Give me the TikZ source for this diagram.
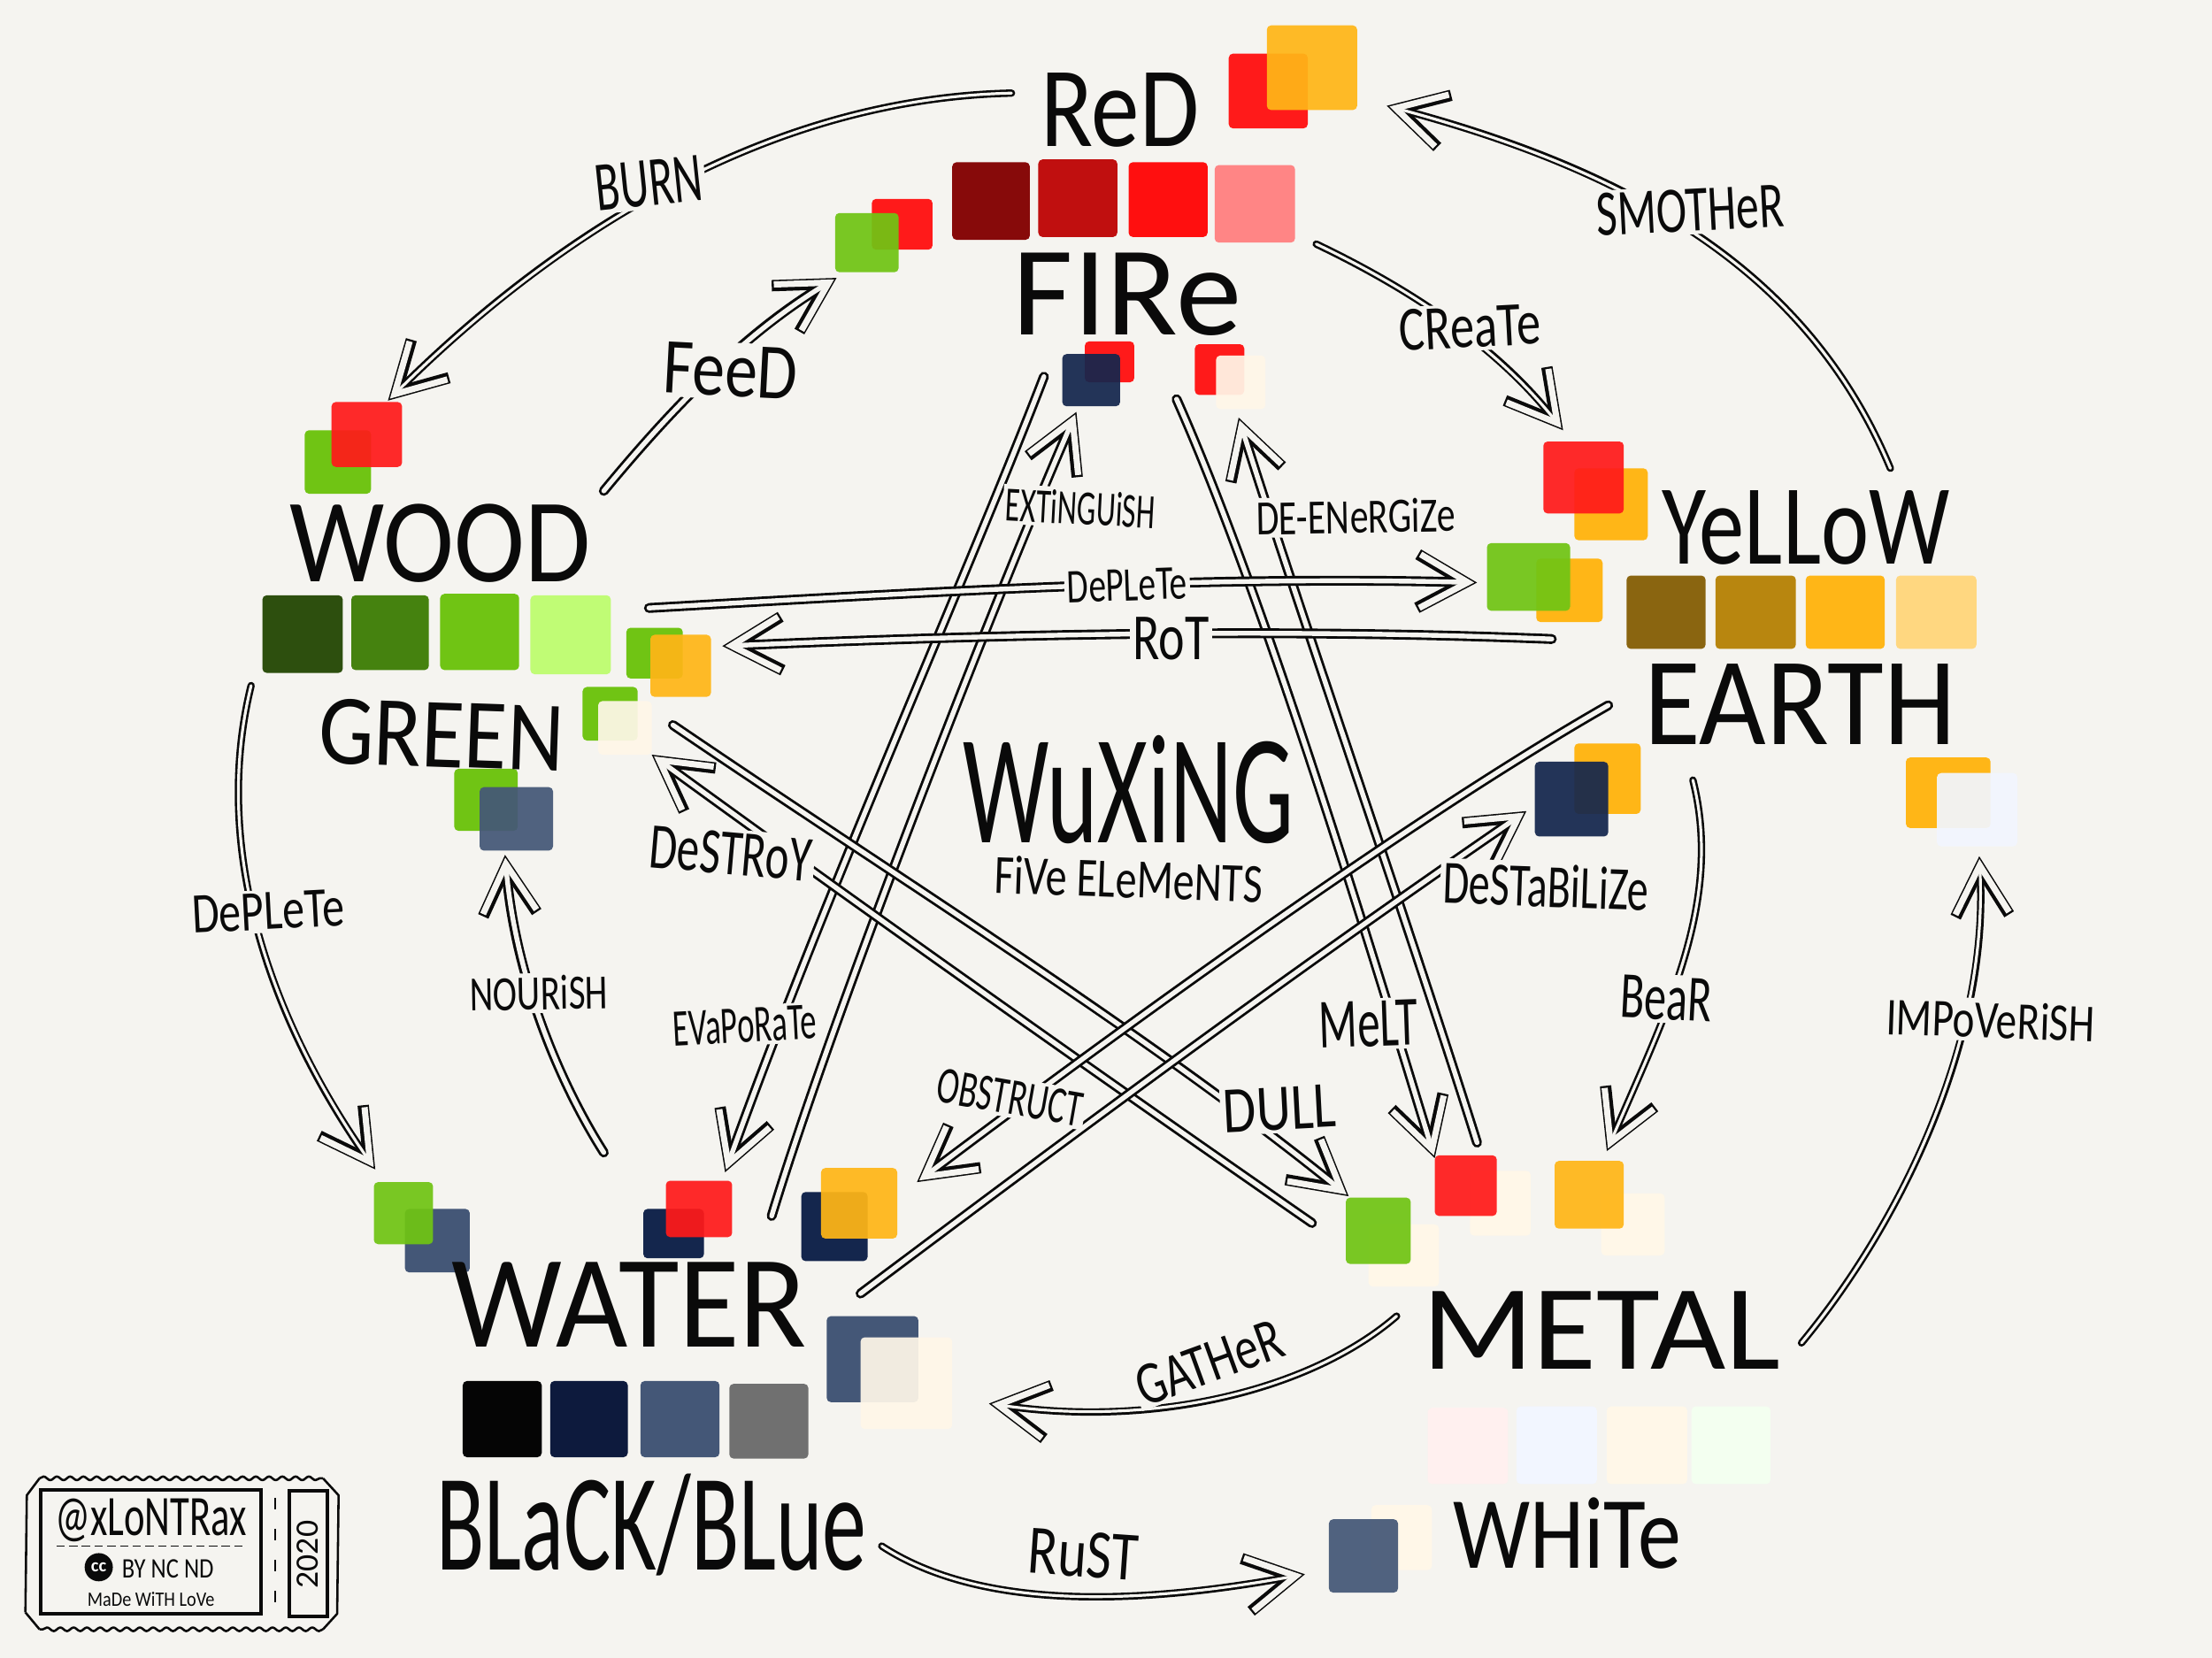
\documentclass[tikz,border=0pt]{standalone}
\usepackage{fontspec}
\usepackage{graphicx}
\setmainfont{Carlito}
\usetikzlibrary{arrows.meta,decorations.pathmorphing}
\definecolor{bg}{HTML}{F5F4F0}
\definecolor{ink}{HTML}{0A0A0A}
\definecolor{rd}{HTML}{FF1A1A}
\definecolor{og}{HTML}{FFB617}
\definecolor{gn}{HTML}{70C414}
\definecolor{nv}{HTML}{14264D}
\definecolor{bl}{HTML}{445777}
\definecolor{cr}{HTML}{FFF7E8}
\definecolor{ic}{HTML}{F2F6FF}
\definecolor{fa}{HTML}{870A0A}\definecolor{fb}{HTML}{C00F0F}\definecolor{fc}{HTML}{FF0F0F}\definecolor{fd}{HTML}{FF8585}
\definecolor{wa}{HTML}{2D4F0E}\definecolor{wb}{HTML}{45820F}\definecolor{wc}{HTML}{70C414}\definecolor{wd}{HTML}{C0FC75}
\definecolor{ea}{HTML}{8A6510}\definecolor{eb}{HTML}{B8860F}\definecolor{ec}{HTML}{FFB617}\definecolor{ed}{HTML}{FFD780}
\definecolor{aa}{HTML}{050505}\definecolor{ab}{HTML}{0D1A3D}\definecolor{ac}{HTML}{445777}\definecolor{ad}{HTML}{707070}
\definecolor{ma}{HTML}{FFF0EF}\definecolor{mb}{HTML}{F2F6FF}\definecolor{mc}{HTML}{FFF7E8}\definecolor{md}{HTML}{F3FFF0}
\tikzset{
  headout/.tip={Straight Barb[length=34pt,width=38pt,line width=8pt]},
  headin/.tip={Straight Barb[length=34pt,width=38pt,line width=4.4pt]},
  conn/.style={draw=bg,line width=3.4pt,line cap=round,-{headin},shorten >=2pt,
    preaction={draw=ink,line width=7pt,line cap=round,-{headout},shorten >=0pt}},
  connthin/.style={draw=bg,line width=2pt,line cap=round,-{headin},shorten >=2pt,
    preaction={draw=ink,line width=5.2pt,line cap=round,-{headout},shorten >=0pt}},
  swatch/.style={rounded corners=3pt,inner sep=0pt,outer sep=0pt,draw=none},
  word/.style={inner sep=0pt,outer sep=0pt,text=ink},
  tag/.style={inner sep=2pt,outer sep=0pt,text=ink,fill=bg},
  edgeline/.style={draw=ink,line width=1.6pt,line join=round},
  wavy/.style={edgeline,decorate,decoration={snake,amplitude=1.3pt,segment length=9.4pt}}
}
% name x1 y1 x2 y2 colour
\newcommand{\sq}[6]{\node[swatch,fill=#6,minimum width={(#4-#2)*1pt},minimum height={(#5-#3)*1pt}] (#1) at ({(#2+#4)/2},{(#3+#5)/2}) {};}
\newcommand{\ov}[6]{\node[swatch,fill=#6,fill opacity=.93,minimum width={(#4-#2)*1pt},minimum height={(#5-#3)*1pt}] (#1) at ({(#2+#4)/2},{(#3+#5)/2}) {};}
% name style cx cy w h rot text
\newcommand{\lbl}[8]{\node[#2,rotate=#7] (#1) at (#3,#4) {\resizebox{#5pt}{#6pt}{#8}};}
\begin{document}
\begin{tikzpicture}[x=1pt,y=-1pt]
\useasboundingbox (0,0) rectangle (1568,1175.3);
\fill[bg] (0,0) rectangle (1568,1175.3);

% connector ends
\coordinate (burnA) at (717,66);   \coordinate (burnB) at (275,284);
\coordinate (feedA) at (428,348);  \coordinate (feedB) at (593,197);
\coordinate (smotA) at (1340,332); \coordinate (smotB) at (983,75);
\coordinate (creaA) at (933,173);  \coordinate (creaB) at (1108,305);
\coordinate (bearA) at (1200,553); \coordinate (bearB) at (1139,816);
\coordinate (impoA) at (1277,952); \coordinate (impoB) at (1403,607);
\coordinate (gathA) at (990,933);  \coordinate (gathB) at (701,995);
\coordinate (rustA) at (625,1096); \coordinate (rustB) at (925,1116);
\coordinate (depwA) at (178,486);  \coordinate (depwB) at (266,829);
\coordinate (nourA) at (428,817);  \coordinate (nourB) at (358,606);
\coordinate (extiA) at (547,862);  \coordinate (extiB) at (763,292);
\coordinate (evapA) at (740,267);  \coordinate (evapB) at (514,831);
\coordinate (meltA) at (834,283);  \coordinate (meltB) at (1017,821);
\coordinate (deenA) at (1047,810); \coordinate (deenB) at (878,296);
\coordinate (rotA) at (1100,453);  \coordinate (rotB) at (512,458);
\coordinate (depeA) at (460,431);  \coordinate (depeB) at (1047,413);
\coordinate (dullA) at (477,514);  \coordinate (dullB) at (956,848);
\coordinate (destA) at (930,867);  \coordinate (destB) at (462,535);
\coordinate (stabA) at (610,917);  \coordinate (stabB) at (1082,575);
\coordinate (obstA) at (1140,500); \coordinate (obstB) at (650,838);

% connectors
\draw[connthin] (burnA) .. controls (540,70) and (390,170) .. (burnB);
\draw[conn] (feedA) .. controls (480,285) and (530,235) .. (feedB);
\draw[connthin] (smotA) .. controls (1285,200) and (1170,125) .. (smotB);
\draw[connthin] (creaA) .. controls (1000,205) and (1060,245) .. (creaB);
\draw[connthin] (bearA) .. controls (1222,640) and (1180,720) .. (bearB);
\draw[connthin] (impoA) .. controls (1345,870) and (1410,740) .. (impoB);
\draw[connthin] (gathA) .. controls (930,985) and (820,1012) .. (gathB);
\draw[connthin] (rustA) .. controls (700,1145) and (820,1135) .. (rustB);
\draw[connthin] (depwA) .. controls (150,600) and (190,720) .. (depwB);
\draw[conn] (nourA) .. controls (395,765) and (365,690) .. (nourB);
\draw[conn] (extiA) .. controls (590,720) and (703,430) .. (extiB);
\draw[conn] (evapA) .. controls (685,410) and (590,620) .. (evapB);
\draw[conn] (meltA) .. controls (895,420) and (968,660) .. (meltB);
\draw[conn] (deenA) .. controls (1000,660) and (920,430) .. (deenB);
\draw[conn] (rotA) .. controls (900,445) and (700,450) .. (rotB);
\draw[conn] (depeA) .. controls (650,420) and (850,408) .. (depeB);
\draw[conn] (dullA) .. controls (640,625) and (810,730) .. (dullB);
\draw[conn] (destA) .. controls (790,770) and (620,650) .. (destB);
\draw[conn] (stabA) .. controls (750,812) and (900,700) .. (stabB);
\draw[conn] (obstA) .. controls (1000,580) and (800,725) .. (obstB);

% connector labels
\lbl{burn}{tag}{460}{130}{76}{32}{6}{BURN}
\lbl{feed}{tag}{518}{263}{95}{36}{-3}{FeeD}
\lbl{smot}{tag}{1198}{149}{133}{30}{3}{SMOTHeR}
\lbl{crea}{tag}{1042}{232}{100}{29}{3}{CReaTe}
\lbl{dept}{tag}{799}{415}{85}{22}{2}{DePLeTe}
\lbl{rott}{tag}{830}{453}{54}{30}{0}{RoT}
\lbl{exti}{tag}{766}{360}{106}{24}{-3}{EXTiNGUiSH}
\lbl{deen}{tag}{961}{366}{141}{24}{1}{DE-ENeRGiZe}
\lbl{dest}{tag}{518}{605}{115}{30}{-5}{DeSTRoY}
\lbl{nour}{tag}{382}{704}{98}{24}{1}{NOURiSH}
\lbl{depw}{tag}{190}{646}{108}{26}{3}{DePLeTe}
\lbl{evap}{tag}{528}{727}{102}{24}{3}{EVaPoRaTe}
\lbl{obst}{tag}{716}{778}{104}{24}{-10}{OBSTRUCT}
\lbl{dull}{tag}{907}{786}{80}{30}{3}{DULL}
\lbl{melt}{tag}{970}{726}{70}{32}{2}{MeLT}
\lbl{bear}{tag}{1181}{708}{65}{30}{-3}{BeaR}
\lbl{stab}{tag}{1096}{628}{146}{30}{-2}{DeSTaBiLiZe}
\lbl{impo}{tag}{1411}{723}{148}{26}{-2}{IMPoVeRiSH}
\lbl{gath}{tag}{857}{966}{108}{28}{20}{GATHeR}
\lbl{rust}{tag}{768}{1102}{78}{32}{-4}{RuST}

% palettes
\sq{f1}{675}{115}{730}{170}{fa}
\sq{f2}{736}{113}{792}{168}{fb}
\sq{f3}{800}{115}{856}{168}{fc}
\sq{f4}{861}{117}{918}{172}{fd}
\sq{w1}{186}{422}{243}{477}{wa}
\sq{w2}{249}{422}{304}{475}{wb}
\sq{w3}{312}{421}{368}{475}{wc}
\sq{w4}{376}{422}{433}{478}{wd}
\sq{e1}{1153}{408}{1209}{460}{ea}
\sq{e2}{1216}{408}{1273}{460}{eb}
\sq{e3}{1280}{408}{1336}{460}{ec}
\sq{e4}{1344}{408}{1401}{460}{ed}
\sq{a1}{328}{979}{384}{1033}{aa}
\sq{a2}{390}{979}{445}{1033}{ab}
\sq{a3}{454}{979}{510}{1033}{ac}
\sq{a4}{517}{981}{573}{1034}{ad}
\sq{m1}{1012}{998}{1069}{1052}{ma}
\sq{m2}{1075}{997}{1132}{1052}{mb}
\sq{m3}{1139}{997}{1196}{1052}{mc}
\sq{m4}{1199}{997}{1255}{1052}{md}

% overlapping pairs
\sq{p1a}{871}{38}{927}{91}{rd}       \ov{p1b}{898}{18}{962}{78}{og}
\sq{p2a}{618}{141}{661}{177}{rd}     \ov{p2b}{592}{151}{637}{193}{gn}
\sq{p3a}{769}{242}{804}{271}{rd}     \ov{p3b}{753}{251}{794}{288}{nv}
\sq{p4a}{847}{244}{882}{280}{rd}     \ov{p4b}{862}{252}{897}{290}{cr}
\sq{p5a}{216}{305}{263}{350}{gn}     \ov{p5b}{235}{285}{285}{331}{rd}
\sq{p6a}{444}{445}{484}{481}{gn}     \ov{p6b}{461}{450}{504}{494}{og}
\sq{p7a}{413}{487}{452}{525}{gn}     \ov{p7b}{424}{497}{462}{535}{cr}
\sq{p8a}{322}{545}{367}{589}{gn}     \ov{p8b}{340}{558}{392}{603}{bl}
\sq{p9a}{287}{857}{333}{902}{bl}     \ov{p9b}{265}{838}{307}{882}{gn}
\sq{p10a}{456}{857}{499}{892}{nv}    \ov{p10b}{472}{837}{519}{877}{rd}
\sq{p11a}{568}{845}{615}{894}{nv}    \ov{p11b}{582}{828}{636}{878}{og}
\sq{p12a}{586}{933}{651}{994}{bl}    \ov{p12b}{610}{948}{675}{1013}{cr}
\sq{p13a}{970}{868}{1020}{912}{cr}   \ov{p13b}{954}{849}{1000}{896}{gn}
\sq{p14a}{1042}{830}{1085}{876}{cr}  \ov{p14b}{1017}{819}{1061}{862}{rd}
\sq{p15a}{1135}{846}{1180}{890}{cr}  \ov{p15b}{1102}{823}{1151}{871}{og}
\sq{p16a}{972}{1067}{1015}{1113}{cr} \ov{p16b}{942}{1077}{991}{1129}{bl}
\sq{p17a}{1351}{537}{1411}{587}{og}  \ov{p17b}{1373}{548}{1430}{600}{ic}
\sq{p18a}{1116}{527}{1163}{577}{og}  \ov{p18b}{1088}{540}{1140}{593}{nv}
\sq{p19b}{1116}{332}{1168}{383}{og}  \ov{p19a}{1094}{313}{1151}{364}{rd}
\sq{p19c}{1089}{396}{1136}{441}{og}  \ov{p19d}{1054}{385}{1113}{433}{gn}

% titles
\lbl{red}{word}{794}{78}{112}{52}{0}{ReD}
\lbl{fire}{word}{799}{209}{162}{58}{0}{FIRe}
\lbl{wood}{word}{312}{385}{213}{55}{0}{WOOD}
\lbl{yellow}{word}{1280}{374}{204}{52}{0}{YeLLoW}
\lbl{green}{word}{313}{521}{174}{46}{-2}{GREEN}
\lbl{earth}{word}{1276}{499}{221}{57}{0}{EARTH}
\lbl{water}{word}{446}{925}{252}{60}{0}{WATER}
\lbl{metal}{word}{1135}{943}{254}{55}{0}{METAL}
\lbl{black}{word}{462}{1081}{305}{68}{0}{BLaCK/BLue}
\lbl{white}{word}{1111}{1087}{162}{50}{0}{WHiTe}
\lbl{wuxing}{word}{800}{560}{234}{76}{0}{WuXiNG}
\lbl{five}{word}{800}{623}{190}{27}{-2}{FiVe ELeMeNTS}

% ticket
\coordinate (tk1) at (19,1060);  \coordinate (tk2) at (28,1048);
\coordinate (tk3) at (229,1048); \coordinate (tk4) at (240,1060);
\coordinate (tk5) at (239,1144); \coordinate (tk6) at (229,1155);
\coordinate (tk7) at (28,1155);  \coordinate (tk8) at (18,1143);
\draw[edgeline] (tk8) -- (tk1) -- (tk2);
\draw[wavy] (tk2) -- (tk3);
\draw[edgeline] (tk3) -- (tk4) -- (tk5) -- (tk6);
\draw[wavy] (tk6) -- (tk7);
\draw[edgeline] (tk7) -- (tk8);
\node[draw=ink,line width=2.6pt,inner sep=0pt,minimum width=156pt,minimum height=88pt] (tkA) at (107,1100) {};
\node[draw=ink,line width=2.6pt,inner sep=0pt,minimum width=27pt,minimum height=89pt] (tkB) at (218.5,1101.5) {};
\coordinate (tkc) at (40,1096); \coordinate (tkd) at (174,1096);
\coordinate (tke) at (195,1062); \coordinate (tkf) at (195,1141);
\draw[ink,line width=1.2pt,dash pattern=on 6pt off 3pt] (tkc) -- (tkd);
\draw[ink,line width=1.6pt,dash pattern=on 8pt off 14pt] (tke) -- (tkf);
\lbl{handle}{word}{107}{1078}{136}{26}{0}{@xLoNTRax}
\node[circle,fill=ink,text=white,inner sep=0pt,minimum size=20pt,font=\bfseries\fontsize{13pt}{13pt}\selectfont] (ccb) at (70,1111) {cc};
\lbl{lic}{word}{119}{1112}{65}{13}{0}{BY NC ND}
\lbl{love}{word}{107}{1134}{90}{10}{0}{MaDe WiTH LoVe}
\lbl{year}{word}{218}{1102}{48}{15}{90}{2020}
\end{tikzpicture}
\end{document}
